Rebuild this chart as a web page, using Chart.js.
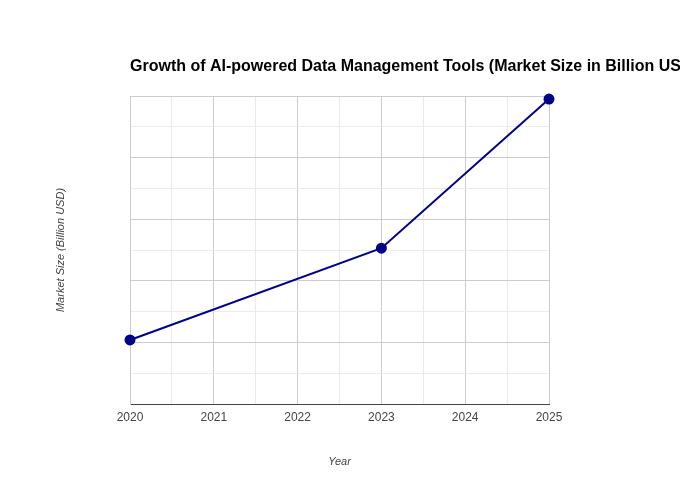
<!DOCTYPE html>
<html>
<head>
<meta charset="utf-8">
<script src="https://cdn.jsdelivr.net/npm/chart.js@4"></script>
<style>
  html, body { margin: 0; padding: 0; background: #fff; }
  #wrap { width: 680px; height: 500px; }
</style>
</head>
<body>
<div id="wrap"><canvas id="growthChart" width="680" height="500"></canvas></div>
<script>
// Data
const years = [2020, 2023, 2025];
const marketSize = [1.04, 2.53, 4.95];
const yearTicks = [2020, 2021, 2022, 2023, 2024, 2025];
const chartTitle = 'Growth of AI-powered Data Management Tools (Market Size in Billion USD)';

const FONT = '"Liberation Sans", Arial, sans-serif';
const MAJOR = '#cccccc';
const MINOR = '#ebebeb';

// Title drawn by hand so it runs past the canvas edge instead of being squeezed
const leftTitle = {
    id: 'leftTitle',
    afterDraw(chart) {
        const c = chart.ctx;
        c.save();
        c.font = 'bold 16px ' + FONT;
        c.fillStyle = '#000';
        c.textAlign = 'left';
        c.textBaseline = 'middle';
        c.fillText(chartTitle, chart.chartArea.left, 67);
        c.restore();
    }
};

const ctx = document.getElementById('growthChart').getContext('2d');

new Chart(ctx, {
    type: 'line',
    data: {
        datasets: [{
            label: 'Market Size',
            data: years.map((y, i) => ({ x: y, y: marketSize[i] })),
            borderColor: '#00008b',
            backgroundColor: '#00008b',
            borderWidth: 2,
            pointRadius: 4.5,
            pointHoverRadius: 4.5,
            tension: 0,
            clip: false
        }]
    },
    options: {
        responsive: false,
        animation: false,
        layout: { padding: { left: 0, right: 131, top: 96, bottom: 0 } },
        plugins: {
            legend: { display: false },
            tooltip: { enabled: false },
            title: { display: false }
        },
        scales: {
            x: {
                type: 'linear',
                min: 2020,
                max: 2025,
                afterFit: (scale) => { scale.height = 96; },
                ticks: {
                    stepSize: 0.5,
                    autoSkip: false,
                    maxRotation: 0,
                    padding: 6,
                    color: '#444',
                    font: { family: FONT, size: 12 },
                    callback: (v) => yearTicks.includes(v) ? String(v) : ''
                },
                grid: {
                    drawTicks: false,
                    color: (c) => (c.tick && Number.isInteger(c.tick.value)) ? MAJOR : MINOR
                },
                border: { color: '#444', width: 1 },
                title: {
                    display: true,
                    text: 'Year',
                    color: '#444',
                    font: { family: FONT, size: 11, style: 'italic' },
                    padding: { top: 0, bottom: 31 }
                }
            },
            y: {
                min: 0,
                max: 5,
                afterFit: (scale) => { scale.width = 130; },
                ticks: { display: false, stepSize: 0.5 },
                grid: {
                    drawTicks: false,
                    color: (c) => (c.tick && Number.isInteger(c.tick.value)) ? MAJOR : MINOR
                },
                border: { color: MAJOR, width: 1 },
                title: {
                    display: true,
                    text: 'Market Size (Billion USD)',
                    color: '#444',
                    font: { family: FONT, size: 11, style: 'italic' },
                    padding: { top: 54, bottom: 0 }
                }
            }
        }
    },
    plugins: [leftTitle]
});
</script>
</body>
</html>
